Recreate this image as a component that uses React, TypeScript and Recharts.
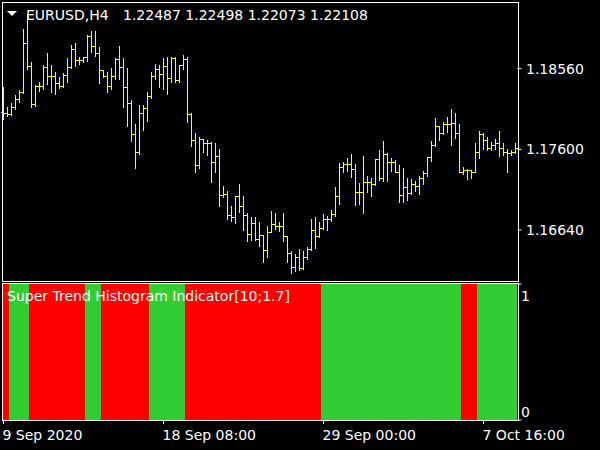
import { ComposedChart, BarChart, Bar, XAxis, YAxis, Cell } from "recharts";

// EURUSD H4 bars (prices)
const opens = [
  1.18044, 1.18032, 1.18009, 1.18092, 1.18187, 1.18282, 1.18865, 1.1858, 1.18139, 1.18342,
  1.18342, 1.18568, 1.18461, 1.18461, 1.18389, 1.18342, 1.18473, 1.18568, 1.18782, 1.18651,
  1.18651, 1.18687, 1.18937, 1.18818, 1.18746, 1.18532, 1.18461, 1.18342, 1.18461, 1.18663,
  1.18568, 1.1833, 1.18151, 1.17771, 1.17568, 1.18032, 1.1808, 1.18223, 1.18461, 1.18544,
  1.18485, 1.1858, 1.18437, 1.18675, 1.18413, 1.18592, 1.18663, 1.18009, 1.17699, 1.17402,
  1.17711, 1.17675, 1.17675, 1.17449, 1.17509, 1.17045, 1.17068, 1.16807, 1.16783, 1.17033,
  1.16914, 1.16807, 1.16592, 1.16723, 1.16521, 1.16569, 1.1639, 1.16616, 1.16711, 1.16676,
  1.16676, 1.16557, 1.16366, 1.16188, 1.16307, 1.16176, 1.16307, 1.16402, 1.16628, 1.16557,
  1.16652, 1.16759, 1.16759, 1.1683, 1.17033, 1.17378, 1.17425, 1.17425, 1.17354, 1.17092,
  1.17092, 1.17211, 1.17211, 1.17176, 1.17473, 1.17247, 1.17544, 1.17449, 1.17449, 1.1733,
  1.17045, 1.1714, 1.1708, 1.17176, 1.17152, 1.17247, 1.17318, 1.17497, 1.1764, 1.17866,
  1.17794, 1.1789, 1.1789, 1.17913, 1.17794, 1.1733, 1.17342, 1.17342, 1.1733, 1.17568,
  1.17782, 1.17699, 1.17604, 1.1764, 1.17675, 1.17604, 1.17568, 1.17556, 1.17568,
];
const highs = [
  1.18342, 1.18104, 1.18151, 1.18247, 1.18306, 1.19032, 1.1921, 1.18639, 1.18366, 1.18401,
  1.18604, 1.18746, 1.18604, 1.1852, 1.18461, 1.18508, 1.18687, 1.18842, 1.18865, 1.18699,
  1.18699, 1.18961, 1.19008, 1.19008, 1.18818, 1.18544, 1.1852, 1.18568, 1.18687, 1.1883,
  1.18687, 1.18568, 1.18187, 1.17901, 1.18128, 1.18128, 1.18282, 1.1852, 1.18615, 1.18604,
  1.18687, 1.18699, 1.18699, 1.18699, 1.18604, 1.18723, 1.18699, 1.18032, 1.17794, 1.17747,
  1.17723, 1.17711, 1.17687, 1.17675, 1.17604, 1.17164, 1.17104, 1.16926, 1.17045, 1.17187,
  1.17045, 1.16842, 1.16795, 1.16795, 1.16735, 1.16581, 1.16688, 1.16866, 1.16842, 1.16735,
  1.16842, 1.16569, 1.1639, 1.16354, 1.16414, 1.1639, 1.16438, 1.16771, 1.16795, 1.16735,
  1.1683, 1.16807, 1.16878, 1.17152, 1.17437, 1.17449, 1.17497, 1.17544, 1.17425, 1.17199,
  1.17521, 1.17283, 1.17259, 1.17485, 1.17592, 1.17699, 1.17556, 1.17497, 1.17473, 1.17414,
  1.17378, 1.17259, 1.17247, 1.17223, 1.17283, 1.17342, 1.17509, 1.17699, 1.17973, 1.17878,
  1.17925, 1.17985, 1.1808, 1.18032, 1.17901, 1.1739, 1.17366, 1.17354, 1.17675, 1.17818,
  1.17794, 1.17747, 1.17687, 1.17723, 1.17818, 1.17675, 1.17604, 1.17592, 1.17675,
];
const lows = [
  1.17949, 1.17985, 1.17997, 1.18068, 1.18151, 1.18258, 1.18544, 1.18092, 1.18104, 1.18282,
  1.18306, 1.18366, 1.1827, 1.18247, 1.18318, 1.1833, 1.18389, 1.18556, 1.1858, 1.18604,
  1.18627, 1.18639, 1.18746, 1.18699, 1.18377, 1.18449, 1.1827, 1.18306, 1.18425, 1.18425,
  1.18092, 1.17866, 1.17687, 1.17366, 1.17533, 1.17818, 1.17925, 1.18199, 1.18425, 1.1833,
  1.18306, 1.18247, 1.18389, 1.18389, 1.18389, 1.18544, 1.17913, 1.17628, 1.17318, 1.17366,
  1.17556, 1.17521, 1.17199, 1.17318, 1.16914, 1.17021, 1.16759, 1.16735, 1.16711, 1.16842,
  1.16628, 1.16497, 1.16509, 1.16509, 1.16438, 1.16247, 1.16307, 1.16604, 1.1664, 1.16616,
  1.16497, 1.16247, 1.16116, 1.1614, 1.16152, 1.16164, 1.16283, 1.1639, 1.16414, 1.16545,
  1.1664, 1.16628, 1.16735, 1.16795, 1.16938, 1.17318, 1.1733, 1.17259, 1.16926, 1.16938,
  1.1683, 1.1708, 1.17033, 1.17164, 1.17223, 1.17211, 1.17211, 1.1733, 1.17318, 1.16961,
  1.16961, 1.16985, 1.17057, 1.17092, 1.17057, 1.17176, 1.17271, 1.17449, 1.17628, 1.17699,
  1.17771, 1.17794, 1.1764, 1.17723, 1.17318, 1.17295, 1.17235, 1.17247, 1.17318, 1.17485,
  1.17592, 1.1758, 1.1758, 1.17592, 1.17509, 1.17521, 1.17318, 1.17521, 1.17544,
];
const closes = [
  1.18032, 1.18009, 1.18092, 1.18187, 1.18282, 1.18865, 1.1858, 1.18139, 1.18342, 1.18342,
  1.18568, 1.18461, 1.18461, 1.18389, 1.18342, 1.18473, 1.18568, 1.18782, 1.18651, 1.18651,
  1.18687, 1.18937, 1.18818, 1.18746, 1.18532, 1.18461, 1.18342, 1.18461, 1.18663, 1.18568,
  1.1833, 1.18151, 1.17771, 1.17568, 1.18032, 1.1808, 1.18223, 1.18461, 1.18544, 1.18485,
  1.1858, 1.18437, 1.18675, 1.18413, 1.18592, 1.18663, 1.18009, 1.17699, 1.17402, 1.17711,
  1.17675, 1.17675, 1.17449, 1.17509, 1.17045, 1.17068, 1.16807, 1.16783, 1.17033, 1.16914,
  1.16807, 1.16592, 1.16723, 1.16521, 1.16569, 1.1639, 1.16616, 1.16711, 1.16676, 1.16676,
  1.16557, 1.16366, 1.16188, 1.16307, 1.16176, 1.16307, 1.16402, 1.16628, 1.16557, 1.16652,
  1.16759, 1.16759, 1.1683, 1.17033, 1.17378, 1.17425, 1.17425, 1.17354, 1.17092, 1.17092,
  1.17211, 1.17211, 1.17176, 1.17473, 1.17247, 1.17544, 1.17449, 1.17449, 1.1733, 1.17045,
  1.1714, 1.1708, 1.17176, 1.17152, 1.17247, 1.17318, 1.17497, 1.1764, 1.17866, 1.17794,
  1.1789, 1.1789, 1.17913, 1.17794, 1.1733, 1.17342, 1.17342, 1.1733, 1.17568, 1.17782,
  1.17699, 1.17604, 1.1764, 1.17675, 1.17604, 1.17568, 1.17556, 1.17568, 1.17604,
];
// Super Trend direction per bar: 1 = up (green), -1 = down (red)
const trend = [
  -1, -1, 1, 1, 1, 1, 1, -1, -1, -1,
  -1, -1, -1, -1, -1, -1, -1, -1, -1, -1,
  -1, 1, 1, 1, 1, -1, -1, -1, -1, -1,
  -1, -1, -1, -1, -1, -1, -1, 1, 1, 1,
  1, 1, 1, 1, 1, 1, -1, -1, -1, -1,
  -1, -1, -1, -1, -1, -1, -1, -1, -1, -1,
  -1, -1, -1, -1, -1, -1, -1, -1, -1, -1,
  -1, -1, -1, -1, -1, -1, -1, -1, -1, -1,
  1, 1, 1, 1, 1, 1, 1, 1, 1, 1,
  1, 1, 1, 1, 1, 1, 1, 1, 1, 1,
  1, 1, 1, 1, 1, 1, 1, 1, 1, 1,
  1, 1, 1, 1, 1, -1, -1, -1, -1, 1,
  1, 1, 1, 1, 1, 1, 1, 1, 1,
];
const priceTicks = [1.1664, 1.176, 1.1856];
const timeTickIdx = [0, 40, 80, 120];
const timeTickLabels = ["9 Sep 2020", "18 Sep 08:00", "29 Sep 00:00", "7 Oct 16:00"];

const FONT = "DejaVu Sans";
const BAR = "#ffff00";
const UP = "#32cd32";
const DOWN = "#ff0000";

const rows = closes.map((c, i) => ({
  idx: i,
  o: opens[i],
  h: highs[i],
  l: lows[i],
  c,
  range: [lows[i], highs[i]],
  hist: 1,
  up: trend[i] > 0,
}));

// MT4 style OHLC bar: vertical high-low line, open tick left, close tick right
function OhlcShape(props: any) {
  const { x, y, width, height, payload } = props;
  const cx = Math.floor(x + width / 2) + 0.5;
  const span = payload.h - payload.l;
  const yOf = (v: number) => (span === 0 ? y : y + ((payload.h - v) / span) * height);
  const yo = Math.floor(yOf(payload.o)) + 0.5;
  const yc = Math.floor(yOf(payload.c)) + 0.5;
  return (
    <g stroke={BAR} strokeWidth={1} shapeRendering="crispEdges">
      <line x1={cx} x2={cx} y1={y} y2={y + Math.max(height, 1)} />
      <line x1={cx - 2.5} x2={cx - 0.5} y1={yo} y2={yo} />
      <line x1={cx + 0.5} x2={cx + 2.5} y1={yc} y2={yc} />
    </g>
  );
}

// histogram column snapped to whole pixels so neighbours touch without seams
function HistShape(props: any) {
  const { x, y, width, height, fill } = props;
  const left = Math.floor(x);
  return (
    <rect x={left} y={Math.floor(y)} width={Math.ceil(width)} height={Math.ceil(height)} fill={fill} shapeRendering="crispEdges" />
  );
}

function TimeTick(props: any) {
  const { x, y, payload } = props;
  const k = timeTickIdx.indexOf(payload.value);
  return (
    <text x={x - 1} y={y + 16} fill="#fff" fontSize={14} fontFamily={FONT} textAnchor="start">
      {k >= 0 ? timeTickLabels[k] : ""}
    </text>
  );
}

function HistTick(props: any) {
  const { x, y, payload } = props;
  const dy = payload.value === 1 ? 17 : -3;
  return (
    <text x={x - 0.5} y={y + dy} fill="#fff" fontSize={14} fontFamily={FONT} textAnchor="start">
      {String(payload.value)}
    </text>
  );
}

export default function App() {
  return (
    <div style={{ position: "absolute", left: 0, top: 0, width: 600, height: 450, background: "#000", fontFamily: FONT }}>
      <div style={{ position: "absolute", left: 0, top: 0 }}>
        <ComposedChart width={600} height={283} data={rows} margin={{ top: 2, right: 0, bottom: 2, left: 1.5 }} barCategoryGap={0}>
          <XAxis dataKey="idx" type="category" hide />
          <YAxis
            orientation="right"
            width={82.5}
            domain={[1.16033, 1.19353]}
            allowDataOverflow
            ticks={priceTicks}
            interval={0}
            tickFormatter={(v: number) => v.toFixed(5)}
            axisLine={false}
            tickLine={{ stroke: "#fff" }}
            tickSize={4}
            tickMargin={4.5}
            tick={{ fill: "#fff", fontSize: 14, fontFamily: FONT }}
          />
          <Bar dataKey="range" barSize={4} shape={OhlcShape} isAnimationActive={false} />
        </ComposedChart>
      </div>
      <div style={{ position: "absolute", left: 0, top: 283 }}>
        <BarChart width={600} height={167} data={rows} margin={{ top: 1, right: 0, bottom: 0, left: 1.5 }} barCategoryGap={0} barGap={0}>
          <XAxis
            dataKey="idx"
            type="category"
            ticks={timeTickIdx}
            interval={0}
            height={30}
            axisLine={false}
            tickLine={{ stroke: "#fff" }}
            tickSize={4}
            tickMargin={0}
            tick={TimeTick}
          />
          <YAxis
            orientation="right"
            width={82.5}
            domain={[0, 1]}
            ticks={[0, 1]}
            interval={0}
            axisLine={false}
            tickLine={{ stroke: "#fff" }}
            tickSize={4}
            tickMargin={0}
            tick={HistTick}
          />
          <Bar dataKey="hist" barSize={4} shape={HistShape} isAnimationActive={false}>
            {rows.map((r) => (
              <Cell key={r.idx} fill={r.up ? UP : DOWN} />
            ))}
          </Bar>
        </BarChart>
      </div>
      <svg width={600} height={450} style={{ position: "absolute", left: 0, top: 0, pointerEvents: "none" }}>
        <rect x={0} y={283} width={2} height={138} fill="#000" />
        <rect x={2.5} y={2.5} width={516} height={279} fill="none" stroke="#fff" strokeWidth={1} />
        <rect x={2.5} y={283.5} width={516} height={137} fill="none" stroke="#fff" strokeWidth={1} />
        <polygon points="7,11 17,11 12,16" fill="#fff" />
        <text x={26} y={20} fill="#fff" fontSize={14} fontFamily={FONT}>EURUSD,H4</text>
        <text x={123} y={20} fill="#fff" fontSize={14} fontFamily={FONT}>1.22487 1.22498 1.22073 1.22108</text>
        <text x={7} y={301} fill="#fff" fontSize={14} fontFamily={FONT}>Super Trend Histogram Indicator[10;1.7]</text>
      </svg>
    </div>
  );
}
